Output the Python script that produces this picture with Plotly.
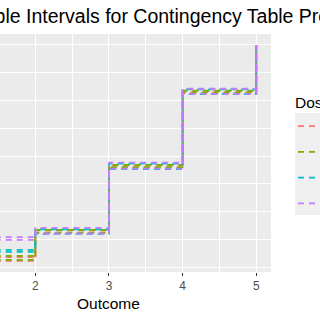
import plotly.graph_objects as go

outcomes = [1, 2, 3, 4, 5]
doses = ["0", "1", "2", "3"]
colors = ["#F8766D", "#7CAE00", "#00BFC4", "#C77CFF"]

lower = {
    "0": [0.028, 0.153, 0.448, 0.783, 1.0],
    "1": [0.032, 0.155, 0.450, 0.785, 1.0],
    "2": [0.068, 0.149, 0.441, 0.779, 1.0],
    "3": [0.122, 0.151, 0.443, 0.780, 1.0],
}
upper = {
    "0": [0.045, 0.165, 0.458, 0.792, 1.0],
    "1": [0.050, 0.167, 0.460, 0.794, 1.0],
    "2": [0.077, 0.170, 0.466, 0.800, 1.0],
    "3": [0.135, 0.176, 0.470, 0.803, 1.0],
}

fig = go.Figure()
for d, c in zip(doses, colors):
    for series, show in [(lower[d], True), (upper[d], False)]:
        fig.add_trace(go.Scatter(
            x=outcomes, y=series, mode="lines", line_shape="hv",
            line=dict(color=c, width=1.8, dash="6px,5px"),
            name=d, legendgroup=d, showlegend=show,
        ))

W, H = 320, 320
ml, mr, mt, mb = 0, 49, 34, 48
pw = W - ml - mr
ph = H - mt - mb

def px_x(p):
    return (p - ml) / pw

def px_y(p):
    return 1 - (p - mt) / ph

fig.update_layout(
    width=W, height=H,
    margin=dict(l=ml, r=mr, t=mt, b=mb, pad=0, autoexpand=False),
    paper_bgcolor="white",
    plot_bgcolor="#EBEBEB",
    font=dict(family="Liberation Sans, Arial, sans-serif", color="#4D4D4D"),
    showlegend=True,
    legend=dict(
        x=px_x(293), xanchor="left", y=px_y(88), yanchor="top",
        bgcolor="rgba(0,0,0,0)",
        font=dict(size=17.5, color="#000000"),
        title=dict(text="Dose", font=dict(size=15.5, color="#000000")),
        itemwidth=30, tracegroupgap=0,
    ),
    xaxis=dict(
        range=[1.52, 5.2], tickmode="array", tickvals=[1, 2, 3, 4, 5],
        ticktext=["1", "2", "3", "4", "5"],
        showgrid=True, gridcolor="white", gridwidth=1.4, zeroline=False,
        ticks="outside", ticklen=3, tickwidth=1, tickcolor="#333333",
        tickfont=dict(size=12, color="#4D4D4D"),
        minor=dict(tickmode="array", tickvals=[1.5, 2.5, 3.5, 4.5],
                   showgrid=True, gridcolor="white", gridwidth=0.7, ticks=""),
        showline=False,
    ),
    yaxis=dict(
        range=[-0.0225, 1.0495], tickmode="linear", tick0=0, dtick=0.25,
        showgrid=True, gridcolor="white", gridwidth=1.4, zeroline=False,
        showticklabels=False, ticks="",
        minor=dict(tickmode="linear", tick0=0.125, dtick=0.25, showgrid=True,
                   gridcolor="white", gridwidth=0.7, ticks=""),
        showline=False,
    ),
    shapes=[dict(type="rect", xref="paper", yref="paper",
                 x0=px_x(295), x1=px_x(330), y0=px_y(215), y1=px_y(113),
                 fillcolor="#EFEFEF", line=dict(width=0), layer="above")],
    annotations=[
        dict(text="Credible Intervals for Contingency Table Probabilities",
             xref="paper", yref="paper", x=px_x(-54), y=px_y(16),
             xanchor="left", yanchor="middle", showarrow=False,
             font=dict(size=19.5, color="#000000")),
        dict(text="Outcome", xref="x", yref="paper", x=3, y=px_y(303),
             xanchor="center", yanchor="middle", showarrow=False,
             font=dict(size=15.5, color="#000000")),
    ],
)

fig.write_html("out.html")
